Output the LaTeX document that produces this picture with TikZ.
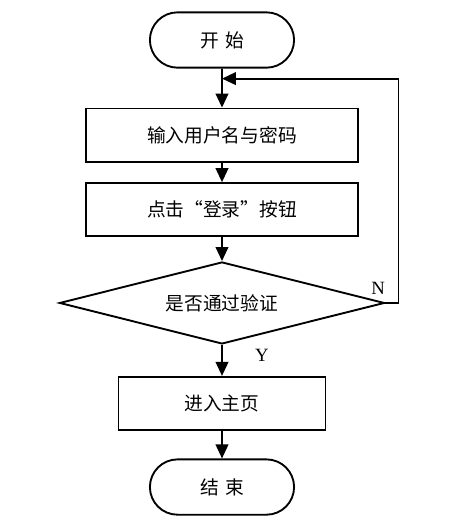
\documentclass[tikz,border=0pt]{standalone}
\usepackage{fontspec}
\setmainfont{Liberation Serif}
\newfontfamily\cjk{Noto Sans CJK SC}
\usepackage{tikz}
\usetikzlibrary{shapes.geometric, shapes.misc, arrows.meta, positioning, calc}
\tikzset{
  term/.style={rounded rectangle, draw=black, fill=white,
    minimum width=4.56cm, minimum height=1.66cm,
    font=\cjk\fontsize{16}{18}\selectfont, line width=1.6pt},
  box/.style={rectangle, draw=black, fill=white,
    minimum width=8.16cm, minimum height=1.6cm,
    font=\cjk\fontsize{16}{18}\selectfont, line width=1.6pt},
  decide/.style={diamond, aspect=4, draw=black, fill=white, inner sep=0pt,
    minimum width=9.75cm, minimum height=2.46cm,
    font=\cjk\fontsize{16}{18}\selectfont, line width=1.6pt},
  arrow/.style={-{Triangle[length=0.42cm, width=0.38cm]}, line width=1.6pt, color=black},
  lbl/.style={font=\fontsize{16}{18}\selectfont}
}
\begin{document}
\begin{tikzpicture}[node distance=0.75cm]

  \useasboundingbox (-6.66,1.2) rectangle (7.08,-14.73);

  % Nodes
  \node[term] (start) at (0,0) {开\,\,始};
  \coordinate[below=0.3cm of start.south] (merge);
  \node[box, below=1.17cm of start] (input) {输入用户名与密码};
  \node[box, below=0.58cm of input] (click) {点击“登录”按钮};
  \node[decide, below=0.71cm of click] (check) {是否通过验证};
  \node[box, minimum width=6.21cm, below=0.93cm of check] (home) {进入主页};
  \node[term, below=0.82cm of home] (stop) {结\,\,束};
  \node[lbl] (nlbl) at ($(check.east)+(-0.22,0.45)$) {N};
  \node[lbl] (ylbl) at ($(check.south)+(1.2,-0.3)$) {Y};

  % Paths
  \draw[arrow] (start) -- (input);
  \draw[arrow] (input) -- (click);
  \draw[arrow] (click) -- (check);
  \draw[arrow] (check) -- (home);
  \draw[arrow] (home) -- (stop);
  \draw[arrow] (check.east) -- ++(0.39,0) |- (merge);

\end{tikzpicture}
\end{document}
